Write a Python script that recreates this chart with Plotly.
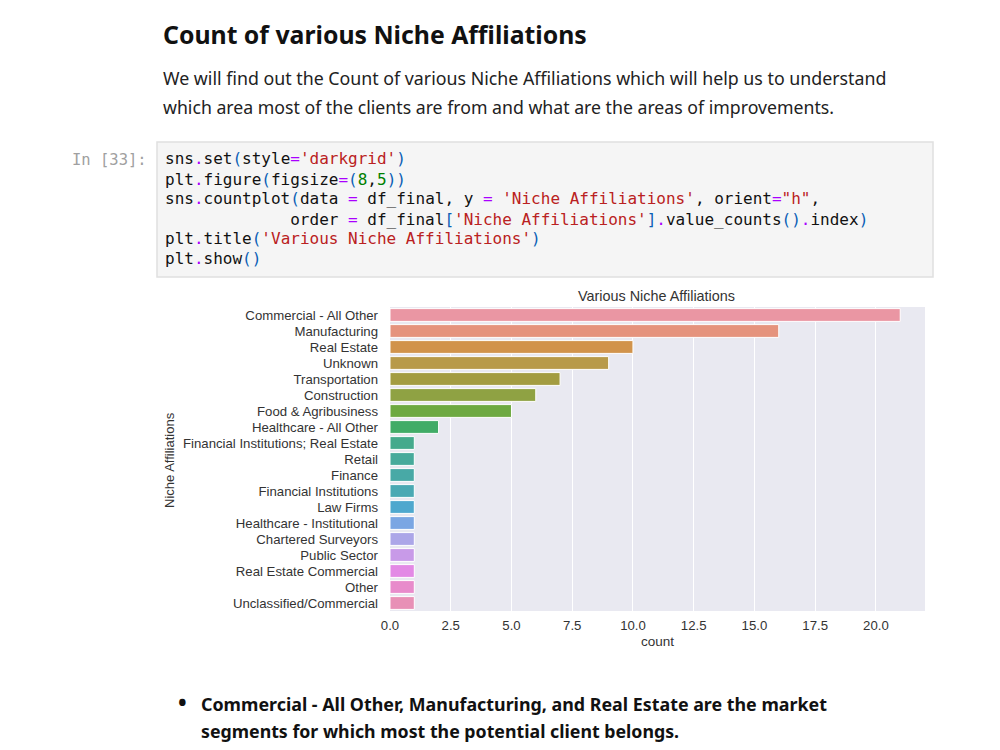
import plotly.graph_objects as go

# valeurs
categories = ['Commercial - All Other', 'Manufacturing', 'Real Estate', 'Unknown', 'Transportation',
              'Construction', 'Food & Agribusiness', 'Healthcare - All Other',
              'Financial Institutions; Real Estate', 'Retail', 'Finance', 'Financial Institutions',
              'Law Firms', 'Healthcare - Institutional', 'Chartered Surveyors', 'Public Sector',
              'Real Estate Commercial', 'Other', 'Unclassified/Commercial']
counts = [21, 16, 10, 9, 7, 6, 5, 2, 1, 1, 1, 1, 1, 1, 1, 1, 1, 1, 1]
couleurs = ['#ea96a3', '#e5937d', '#d1934b', '#b89a49', '#a39c41', '#8fa243', '#6da941', '#41ac67',
            '#45aa8c', '#47aa9b', '#48a9a6', '#4aa9b3', '#4ea8ce', '#7aa6e3', '#aca6e8', '#c89ae8',
            '#e389e5', '#e88bcb', '#e890b6']
x_ticks = [0, 2.5, 5, 7.5, 10, 12.5, 15, 17.5, 20]
x_ticktext = ['0.0', '2.5', '5.0', '7.5', '10.0', '12.5', '15.0', '17.5', '20.0']

R = '#ba2121'
K = '#a0f'
B = '#0b5fb5'
G = '#008000'
def c(txt, col):
    return f'<span style="color:{col}">{txt}</span>'

code_lines = [
    'sns' + c('.', K) + 'set' + c('(', B) + 'style' + c('=', K) + c("'darkgrid'", R) + c(')', B),
    'plt' + c('.', K) + 'figure' + c('(', B) + 'figsize' + c('=', K) + c('(', B) + c('8', G) + ',' + c('5', G) + c('))', B),
    'sns' + c('.', K) + 'countplot' + c('(', B) + 'data ' + c('=', K) + ' df_final, y ' + c('=', K) + ' ' + c("'Niche Affiliations'", R) + ', orient' + c('=', K) + c('"h"', R) + ',',
    '             order ' + c('=', K) + ' df_final' + c('[', B) + c("'Niche Affiliations'", R) + c(']', B) + c('.', K) + 'value_counts' + c('()', B) + c('.', K) + 'index' + c(')', B),
    'plt' + c('.', K) + 'title' + c('(', B) + c("'Various Niche Affiliations'", R) + c(')', B),
    'plt' + c('.', K) + 'show' + c('()', B),
]
code_y = [159, 179, 199, 219, 238, 258]

fig = go.Figure(go.Bar(x=counts, y=categories, orientation='h', marker_color=couleurs,
                       marker_line=dict(color='white', width=1), width=0.8))

# la page ajoute 8 px de marge autour de la figure
fig.update_layout(
    width=992, height=742, paper_bgcolor='white', plot_bgcolor='#e9e9f1', showlegend=False,
    margin=dict(l=382, r=75, t=299, b=139),
    font=dict(family='Liberation Sans', color='#333333', size=13.2),
    title=dict(text='Various Niche Affiliations', x=0.6537, xanchor='center', y=0.6125, yanchor='middle',
               font=dict(size=14.4, family='Liberation Sans', color='#333333')),
)
fig.update_xaxes(range=[0, 22.02], tickvals=x_ticks, ticktext=x_ticktext, gridcolor='white', gridwidth=1.3,
                 zeroline=False, showline=False, ticks='', ticklabelstandoff=5,
                 title=dict(text='count', standoff=4, font=dict(size=13.5)))
fig.update_yaxes(autorange=False, range=[18.5, -0.5], gridcolor='rgba(0,0,0,0)', showline=False, ticks='',
                 ticklabelstandoff=11, title=None, dtick=1)

def texte(x, y, txt, size, family, color='#111', xanchor='left'):
    fig.add_annotation(x=x, y=y, xref='paper', yref='paper', text=txt, showarrow=False, xanchor=xanchor,
                       yanchor='middle', align='left', font=dict(size=size, family=family, color=color))

# conversion pixels de la page -> coordonnees paper
def px_x(p):
    return (p - 390) / 535
def px_y(p):
    return (611 - p) / 304

# cellule de code
fig.add_shape(type='rect', xref='paper', yref='paper', x0=px_x(157), x1=px_x(933), y0=px_y(142), y1=px_y(277),
              fillcolor='#f5f5f5', line=dict(color='#e0e0e0', width=1.5))
for ligne, y in zip(code_lines, code_y):
    texte(px_x(163), px_y(y), ligne, 16, 'DejaVu Sans Mono')
texte(px_x(70), px_y(160), 'In [33]:', 15.5, 'DejaVu Sans Mono', '#a0a0a0')

# texte du notebook
texte(px_x(161), px_y(34), '<b>Count of various Niche Affiliations</b>', 24.8, 'Noto Sans', '#111')
texte(px_x(161), px_y(78), 'We will find out the Count of various Niche Affiliations which will help us to understand', 17.8, 'Noto Sans', '#222')
texte(px_x(161), px_y(107), 'which area most of the clients are from and what are the areas of improvements.', 17.7, 'Noto Sans', '#222')
texte(px_x(182), px_y(702), '<b>•</b>', 23, 'Noto Sans', '#111', xanchor='center')
texte(px_x(199), px_y(704), '<b>Commercial - All Other, Manufacturing, and Real Estate are the market</b>', 17.85, 'Noto Sans', '#111')
texte(px_x(199), px_y(731), '<b>segments for which most the potential client belongs.</b>', 17.75, 'Noto Sans', '#111')

# titre de l'axe y
fig.add_annotation(x=px_x(169), y=px_y(460), xref='paper', yref='paper', text='Niche Affiliations', textangle=-90,
                   xanchor='center', showarrow=False, font=dict(size=13, family='Liberation Sans', color='#333333'))

fig.write_html("out.html")
